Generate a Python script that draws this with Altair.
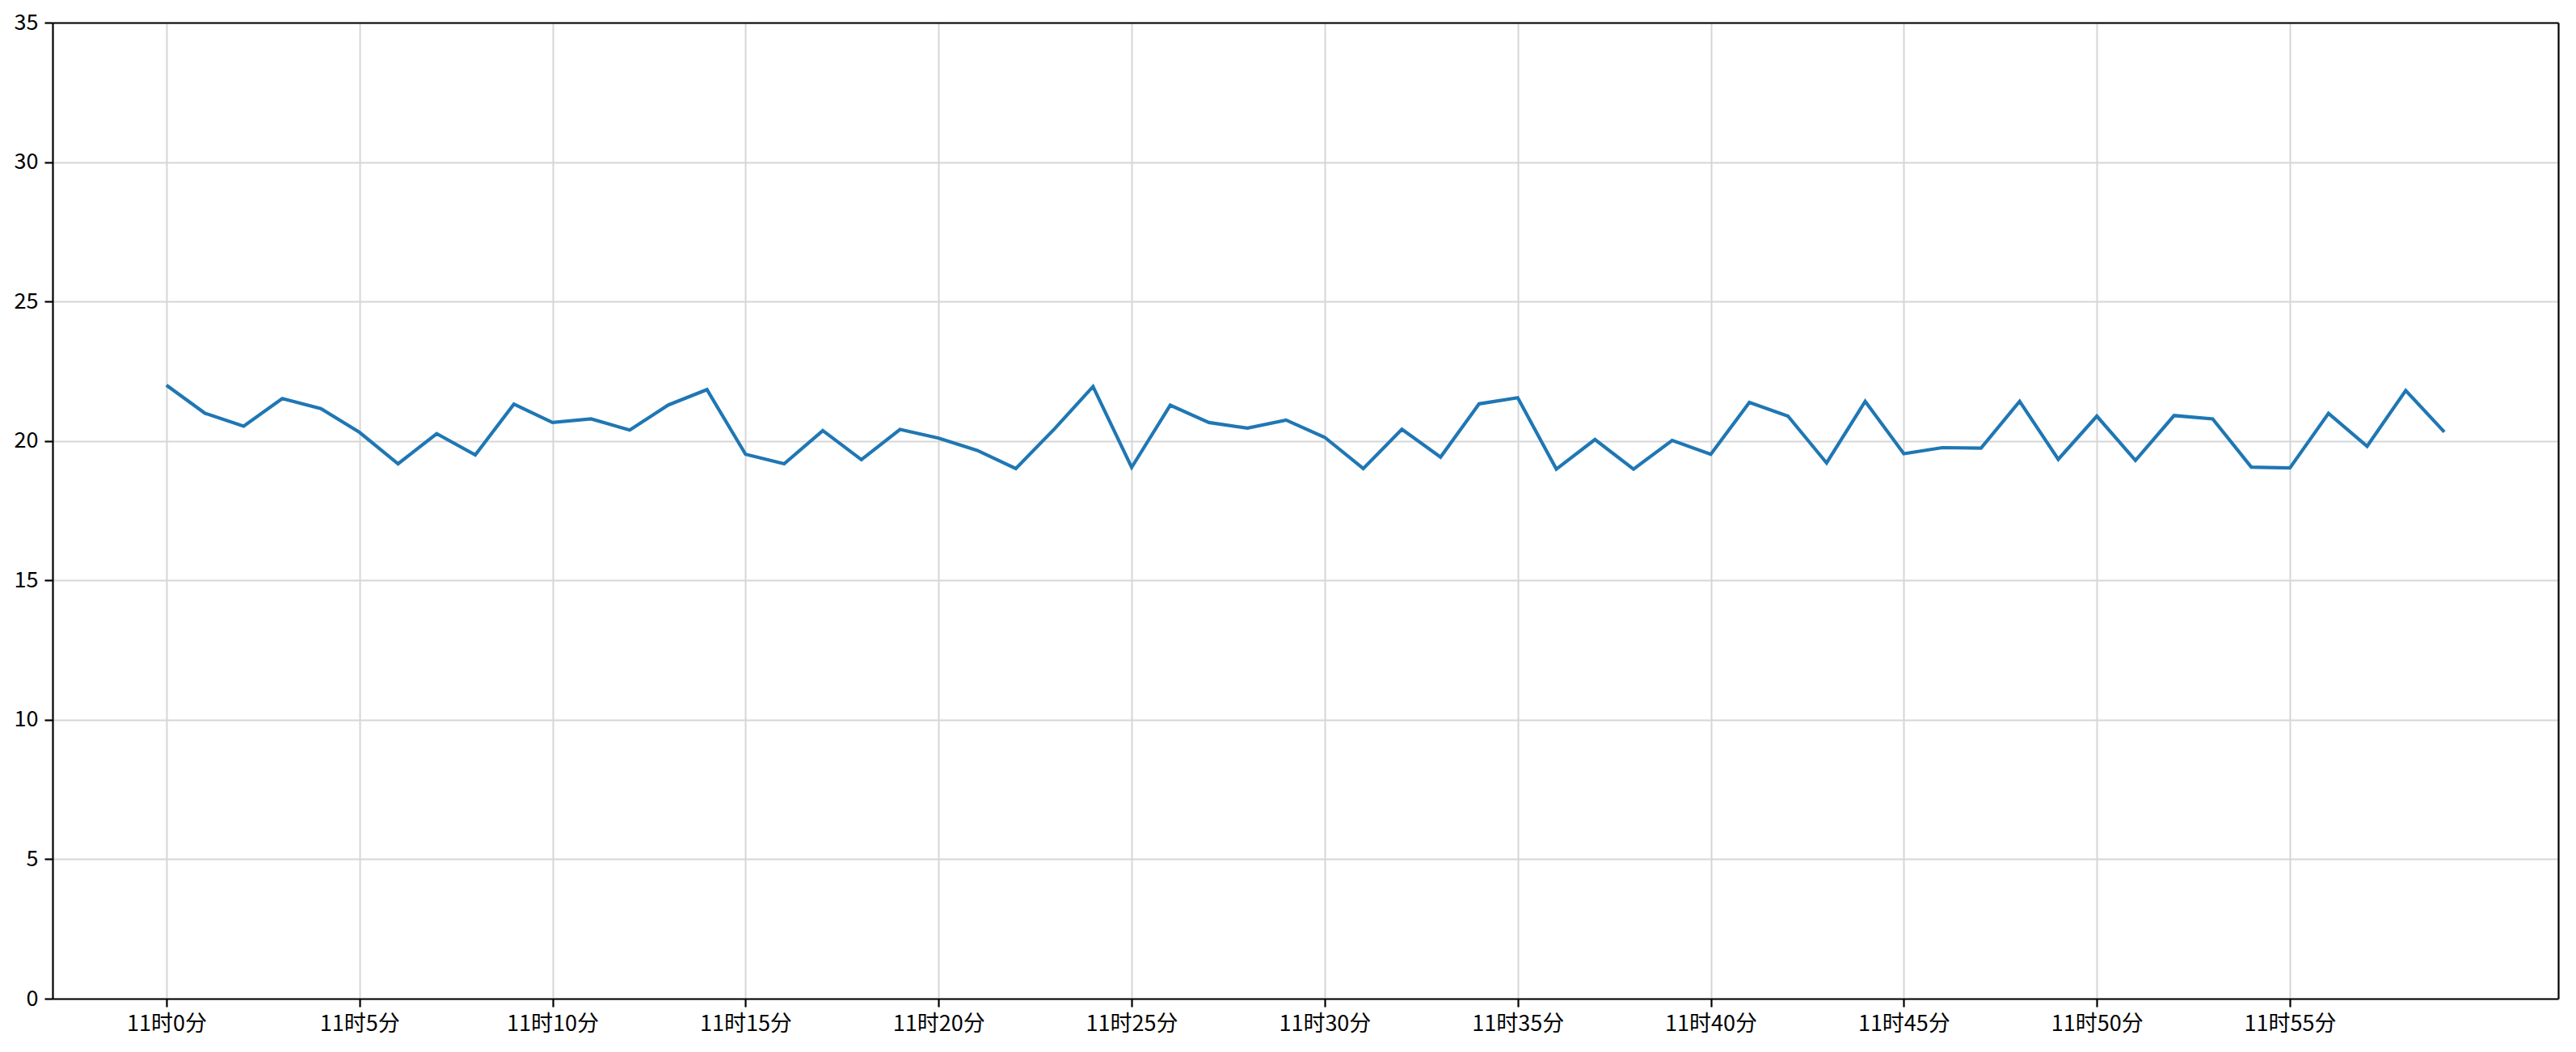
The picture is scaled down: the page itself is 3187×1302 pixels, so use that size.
import json
import altair as alt
import pandas as pd

minutes = list(range(60))
values = [
    22.00, 20.99, 20.53, 21.52, 21.16, 20.31, 19.18, 20.26, 19.50, 21.32,
    20.66, 20.79, 20.39, 21.29, 21.84, 19.52, 19.18, 20.37, 19.33, 20.41,
    20.10, 19.66, 19.01, 20.43, 21.95, 19.05, 21.28, 20.66, 20.46, 20.75,
    20.13, 19.01, 20.42, 19.42, 21.33, 21.55, 18.99, 20.05, 18.99, 20.02,
    19.52, 21.38, 20.89, 19.21, 21.42, 19.54, 19.76, 19.74, 21.42, 19.34,
    20.89, 19.30, 20.91, 20.79, 19.06, 19.03, 20.99, 19.81, 21.81, 20.32,
]
x_ticks = [0, 5, 10, 15, 20, 25, 30, 35, 40, 45, 50, 55]
x_tick_labels = ["11时0分", "11时5分", "11时10分", "11时15分", "11时20分", "11时25分",
                 "11时30分", "11时35分", "11时40分", "11时45分", "11时50分", "11时55分"]
y_ticks = [0, 5, 10, 15, 20, 25, 30, 35]

df = pd.DataFrame({"minute": minutes, "value": values})

FONT = "Noto Sans CJK SC"
label_expr = json.dumps(x_tick_labels, ensure_ascii=False) + "[round(datum.value / 5)]"

xscale = alt.Scale(domain=[-2.95, 61.95], nice=False, zero=False)
yscale = alt.Scale(domain=[0, 35], nice=False, zero=True)

common = dict(title=None, grid=True, gridColor="#d6d6d6", gridWidth=2,
              domain=True, domainColor="black", domainWidth=2.2,
              tickColor="black", tickWidth=2.2, tickSize=10,
              labelPadding=8, labelFont=FONT, labelFontSize=27,
              labelColor="black", labelFlush=False)

line = alt.Chart(df).mark_line(color="#1f77b4", strokeWidth=4.2, clip=True).encode(
    x=alt.X("minute:Q", scale=xscale,
            axis=alt.Axis(values=x_ticks, labelExpr=label_expr, orient="bottom", **common)),
    y=alt.Y("value:Q", scale=yscale,
            axis=alt.Axis(values=y_ticks, orient="left", **common)),
)

frame_axis = dict(title=None, grid=False, labels=False, ticks=False,
                  domain=True, domainColor="black", domainWidth=2.2)
frame = alt.Chart(df).mark_line(opacity=0).encode(
    x=alt.X("minute:Q", scale=xscale, axis=alt.Axis(orient="top", **frame_axis)),
    y=alt.Y("value:Q", scale=yscale, axis=alt.Axis(orient="right", **frame_axis)),
)

chart = alt.layer(line, frame).resolve_axis(x="independent", y="independent").properties(
    width=3100,
    height=1208,
    autosize=alt.AutoSizeParams(type="none"),
    padding={"left": 57, "top": 20, "right": 14, "bottom": 50},
).configure_view(
    stroke=None
).configure(background="white")

chart.save("out.html", embed_options={"renderer": "svg", "actions": False})
